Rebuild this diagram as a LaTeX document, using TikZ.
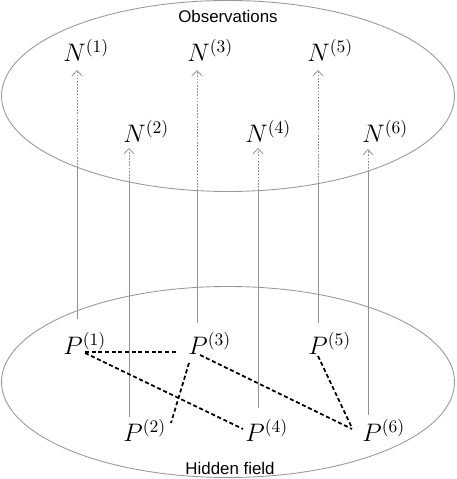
\documentclass[tikz,border=0pt]{standalone}
\usepackage{fontspec}
\setsansfont{Liberation Sans}
\usetikzlibrary{arrows.meta}
\begin{document}
\begin{tikzpicture}[
   x=0.02cm, y=0.02cm,
   var/.style={inner sep=0pt, anchor=base west, font=\Large},
   field/.style={draw=gray!80, line width=0.5pt},
   caption/.style={font=\sffamily\fontsize{9.6}{11}\selectfont},
   rise/.style={draw=gray!85, line width=0.45pt},
   seen/.style={draw=gray!85, line width=0.45pt, dash pattern=on 1pt off 0.8pt,
                -{Straight Barb[length=3.2pt,width=6pt,line width=0.45pt]}},
   link/.style={line width=1pt, dash pattern=on 2.3pt off 1.5pt}
]
\useasboundingbox (0,0) rectangle (456,479);

% the two planes
\draw[field] (228,383) ellipse [x radius=226.5, y radius=95.5];
\draw[field] (228,97) ellipse [x radius=226.5, y radius=95.5];
\node[caption] (obs) at (228,463) {Observations};
\node[caption] (hid) at (230,11) {Hidden field};

% observations
\node[var] (n1) at (63,417) {$N^{(1)}$};
\node[var] (n3) at (187,417) {$N^{(3)}$};
\node[var] (n5) at (307,417) {$N^{(5)}$};
\node[var] (n2) at (123,336) {$N^{(2)}$};
\node[var] (n4) at (245,336) {$N^{(4)}$};
\node[var] (n6) at (362,336) {$N^{(6)}$};

% hidden field
\node[var] (p1) at (63,124) {$P^{(1)}$};
\node[var] (p3) at (188,124) {$P^{(3)}$};
\node[var] (p5) at (308,124) {$P^{(5)}$};
\node[var] (p2) at (123,37) {$P^{(2)}$};
\node[var] (p4) at (245,37) {$P^{(4)}$};
\node[var] (p6) at (362,37) {$P^{(6)}$};

% where the rising lines enter the upper plane
\coordinate (b1) at (77,311);
\coordinate (b2) at (129,297);
\coordinate (b3) at (197,288);
\coordinate (b4) at (258,288);
\coordinate (b5) at (318,295);
\coordinate (b6) at (368,307);

\draw[rise] ([shift={(14,36)}]p1.base west) -- (b1);
\draw[seen] (b1) -- ([shift={(14,-8)}]n1.base west);
\draw[rise] ([shift={(6,25)}]p2.base west) -- (b2);
\draw[seen] (b2) -- ([shift={(6,-5)}]n2.base west);
\draw[rise] ([shift={(9,32)}]p3.base west) -- (b3);
\draw[seen] (b3) -- ([shift={(10,-8)}]n3.base west);
\draw[rise] ([shift={(13,34)}]p4.base west) -- (b4);
\draw[seen] (b4) -- ([shift={(13,-5)}]n4.base west);
\draw[rise] ([shift={(10,32)}]p5.base west) -- (b5);
\draw[seen] (b5) -- ([shift={(11,-8)}]n5.base west);
\draw[rise] ([shift={(6,27)}]p6.base west) -- (b6);
\draw[seen] (b6) -- ([shift={(6,-6)}]n6.base west);

% links in the hidden field
\draw[link] ([shift={(22,3)}]p1.base west) -- ([shift={(-12,3)}]p3.base west);
\draw[link] ([shift={(22,2)}]p1.base west) -- ([shift={(-2,13)}]p4.base west);
\draw[link] ([shift={(1,-8)}]p3.base west) -- ([shift={(48,19)}]p2.base west);
\draw[link] ([shift={(12,0)}]p3.base west) -- ([shift={(-10,13)}]p6.base west);
\draw[link] ([shift={(10,-1)}]p5.base west) -- ([shift={(-10,14)}]p6.base west);

\end{tikzpicture}
\end{document}
